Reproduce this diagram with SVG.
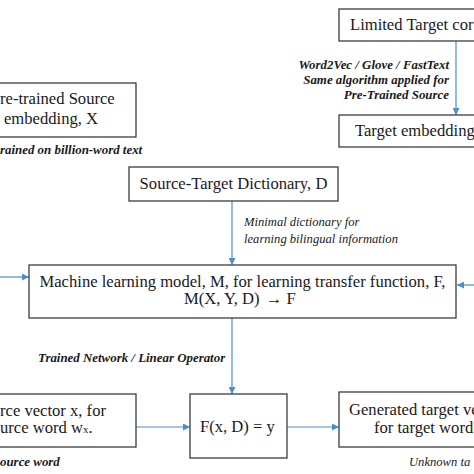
<svg xmlns="http://www.w3.org/2000/svg" width="474" height="474" viewBox="0 0 474 474">
<style>
.box{fill:#fff;stroke:#3c3c3c;stroke-width:1.3}
.t{font-family:"Liberation Serif","Times New Roman",serif;font-size:16.6px;fill:#1a1a1a}
.c{font-family:"Liberation Serif","Times New Roman",serif;font-size:12.6px;font-style:italic;fill:#1a1a1a}
.b{font-weight:bold;font-size:12.9px}
.e{text-anchor:end}
.m{text-anchor:middle}
.a{stroke:#4a90c8;stroke-width:1.2;fill:none;marker-end:url(#ah)}
</style>
<defs>
<marker id="ah" viewBox="0 0 10 10" refX="10" refY="5" markerWidth="7" markerHeight="7" markerUnits="userSpaceOnUse" orient="auto">
<path d="M0,0 L10,5 L0,10 z" fill="#4a90c8"/>
</marker>
</defs>
<rect width="474" height="474" fill="#fff"/>
<g id="connectors">
<line class="a" x1="456" y1="41" x2="456" y2="115"/>
<line class="a" x1="232" y1="201" x2="232" y2="265"/>
<line class="a" x1="0" y1="277" x2="29" y2="277"/>
<line class="a" x1="474" y1="285" x2="457" y2="285"/>
<line class="a" x1="232" y1="318" x2="232" y2="394"/>
<line class="a" x1="136" y1="427" x2="190" y2="427"/>
<line class="a" x1="287" y1="427" x2="339" y2="427"/>
</g>
<g id="limited-target">
<rect class="box" x="339" y="9" width="160" height="32"/>
<text class="t" x="350" y="30">Limited Target cor</text>
</g>
<g id="target-embedding">
<rect class="box" x="339" y="115" width="160" height="32"/>
<text class="t" x="355" y="136">Target embedding</text>
</g>
<g id="caption-word2vec">
<text class="c b e" x="449" y="69">Word2Vec / Glove / FastText</text>
<text class="c b e" x="449" y="84">Same algorithm applied for</text>
<text class="c b e" x="449" y="99">Pre-Trained Source</text>
</g>
<g id="pretrained-source">
<rect class="box" x="-40" y="83" width="176" height="54"/>
<text class="t" x="0" y="104">re-trained Source</text>
<text class="t" x="4" y="124">embedding, X</text>
<text class="c b" x="0" y="154">rained on billion-word text</text>
</g>
<g id="dictionary">
<rect class="box" x="129" y="167" width="209" height="34"/>
<text class="t m" x="233.5" y="189">Source-Target Dictionary, D</text>
</g>
<g id="caption-dict">
<text class="c" x="244" y="226">Minimal dictionary for</text>
<text class="c" x="244" y="243">learning bilingual information</text>
</g>
<g id="ml-model">
<rect class="box" x="29" y="265" width="427" height="53"/>
<text class="t m" x="242.5" y="287">Machine learning model, M, for learning transfer function, F,</text>
<text class="t" x="184" y="304">M(X, Y, D) <tspan dx="2">→ F</tspan></text>
</g>
<g id="caption-trained">
<text class="c b" x="38" y="362">Trained Network / Linear Operator</text>
</g>
<g id="source-vector">
<rect class="box" x="-40" y="394" width="176" height="53"/>
<text class="t" x="0" y="416">rce vector x, for</text>
<text class="t" x="0" y="433">urce word w<tspan font-size="11">x</tspan>.</text>
<text class="c b" x="0" y="466">ource word</text>
</g>
<g id="f-box">
<rect class="box" x="190" y="394" width="97" height="64"/>
<text class="t" x="200" y="432">F(x, D) = y</text>
</g>
<g id="generated">
<rect class="box" x="339" y="392" width="160" height="55"/>
<text class="t" x="349" y="415">Generated target ve</text>
<text class="t" x="374" y="433">for target word</text>
<text class="c" x="409" y="466">Unknown ta</text>
</g>
</svg>
